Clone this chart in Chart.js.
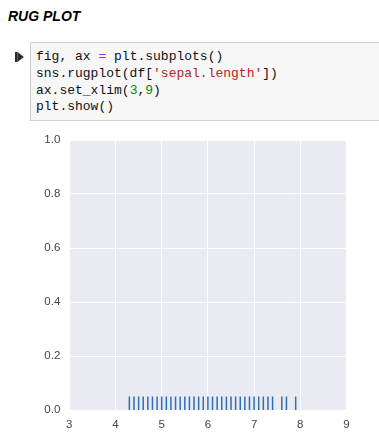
<!DOCTYPE html>
<html>
<head>
<meta charset="utf-8">
<script src="https://cdn.jsdelivr.net/npm/chart.js@4/dist/chart.umd.min.js"></script>
<style>
  html, body { margin: 0; padding: 0; background: #ffffff; width: 379px; height: 440px; overflow: hidden; }
  #title { position: absolute; left: 8px; top: 9px; font: italic bold 14px/14px "Liberation Sans", Arial, sans-serif; color: #000; white-space: nowrap; }
  #runicon { position: absolute; left: 15px; top: 52px; }
  #cell { position: absolute; left: 30px; top: 42px; width: 370px; height: 79px; background: #f7f7f7; border: 1px solid #cfcfcf; box-sizing: border-box; }
  #code { position: absolute; left: 36px; top: 49px; margin: 0; font: 13px/16.8px "Liberation Mono", "Courier New", monospace; color: #111; white-space: pre; }
  .o { color: #aa22ff; }
  .s { color: #ba2121; }
  .n { color: #008800; }
  #chartwrap { position: absolute; left: 0; top: 130px; width: 379px; height: 310px; }
  canvas { display: block; }
</style>
</head>
<body>
<div id="title">RUG PLOT</div>
<svg id="runicon" width="9" height="10" viewBox="0 0 9 10">
  <rect x="0" y="0" width="2.6" height="10" fill="#2b2b2b"/>
  <polygon points="2.6,0 8.8,5 2.6,10" fill="#2b2b2b"/>
</svg>
<div id="cell"></div>
<pre id="code">fig, ax <span class="o">=</span> plt.subplots()
sns.rugplot(df[<span class="s">'sepal.length'</span>])
ax.set_xlim(<span class="n">3</span>,<span class="n">9</span>)
plt.show()</pre>
<div id="chartwrap"><canvas id="c" width="379" height="310"></canvas></div>
<script>
// ---- data ----
const rugValues = [4.3, 4.4, 4.5, 4.6, 4.7, 4.8, 4.9, 5.0, 5.1, 5.2, 5.3, 5.4, 5.5, 5.6, 5.7,
                   5.8, 5.9, 6.0, 6.1, 6.2, 6.3, 6.4, 6.5, 6.6, 6.7, 6.8, 6.9, 7.0, 7.1, 7.2,
                   7.3, 7.4, 7.6, 7.7, 7.9];
const rugHeight = 0.05;
const xTicks = [3, 4, 5, 6, 7, 8, 9];
const yTicks = [0.0, 0.2, 0.4, 0.6, 0.8, 1.0];
const xLimits = [3, 9];
const yLimits = [0, 1];

// build rug segments: each value -> vertical segment from 0 to rugHeight, separated by gaps
const rugData = [];
rugValues.forEach(v => {
  rugData.push({x: v, y: 0});
  rugData.push({x: v, y: rugHeight});
  rugData.push({x: v, y: null});
});

const bgPlugin = {
  id: 'axbg',
  beforeDraw(chart) {
    const {ctx, chartArea: a} = chart;
    ctx.save();
    ctx.fillStyle = '#eaeaf2';
    ctx.fillRect(a.left, a.top, a.right - a.left, a.bottom - a.top);
    ctx.restore();
  }
};

const tickFont = { family: '"Liberation Sans", Arial, sans-serif', size: 11.5 };

new Chart(document.getElementById('c'), {
  type: 'scatter',
  data: {
    datasets: [{
      data: rugData,
      showLine: true,
      spanGaps: false,
      borderColor: '#2f70b4',
      borderWidth: 1.5,
      pointRadius: 0,
      pointHoverRadius: 0,
      fill: false
    }]
  },
  options: {
    responsive: false,
    animation: false,
    devicePixelRatio: 1,
    layout: { padding: { top: 10, right: 32.5, left: 0, bottom: 0 } },
    plugins: { legend: { display: false }, tooltip: { enabled: false } },
    scales: {
      x: {
        type: 'linear',
        min: xLimits[0], max: xLimits[1],
        border: { display: false },
        grid: { color: '#ffffff', lineWidth: 1, drawTicks: false },
        afterBuildTicks: s => { s.ticks = xTicks.map(v => ({value: v})); },
        afterFit: s => { s.height = 30; },
        ticks: { color: '#444444', font: tickFont, padding: 8, maxRotation: 0,
                 callback: v => String(v) }
      },
      y: {
        type: 'linear',
        min: yLimits[0], max: yLimits[1],
        border: { display: false },
        grid: { color: '#ffffff', lineWidth: 1, drawTicks: false },
        afterBuildTicks: s => { s.ticks = yTicks.map(v => ({value: v})); },
        afterFit: s => { s.width = 69.3; s.paddingTop = 0; s.paddingBottom = 0; },
        ticks: { color: '#444444', font: tickFont, padding: 9,
                 callback: v => Number(v).toFixed(1) }
      }
    }
  },
  plugins: [bgPlugin]
});
</script>
</body>
</html>
